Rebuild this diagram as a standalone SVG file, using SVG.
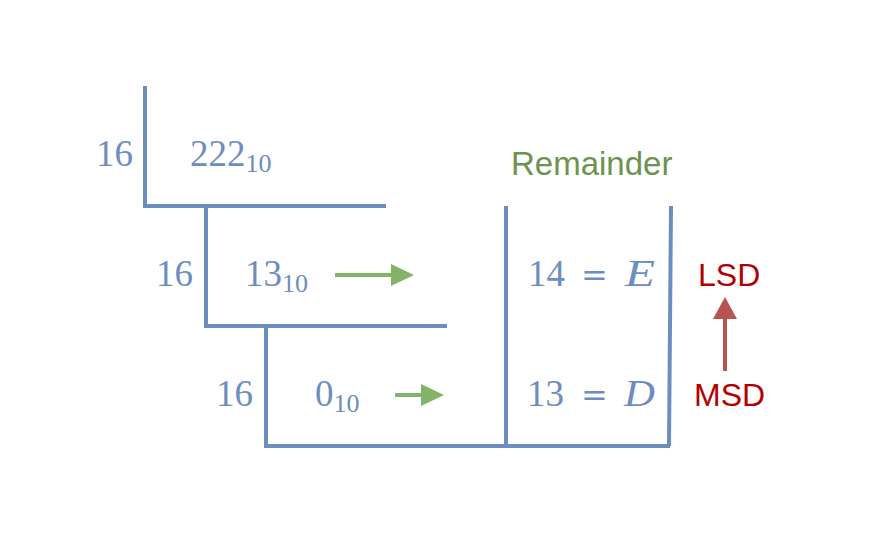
<svg xmlns="http://www.w3.org/2000/svg" width="875" height="553" viewBox="0 0 875 553">
<style>
.ln{stroke:#6c8ebf;stroke-width:4;fill:none}
.m{font-family:"Liberation Serif","Times New Roman",serif;font-size:37px;fill:#6c8ebf}
.s{font-size:26px}
.it{font-style:italic}
.eq{font-family:"DejaVu Serif",serif;font-size:32px;fill:#6c8ebf}
.g{stroke:#82b366;stroke-width:4;fill:none}
.red{font-family:"Liberation Sans",Arial,sans-serif;font-size:32px;fill:#b20000}
</style>
<rect width="875" height="553" fill="#ffffff"/>
<g id="frame">
<path class="ln" d="M145,86 V206 H386"/>
<path class="ln" d="M206,206 V326 H447"/>
<path class="ln" d="M266,326 V446 H670"/>
<path class="ln" d="M506,206 V446"/>
<path class="ln" d="M671,206 L669,446"/>
</g>
<g id="row1">
<text class="m" x="96" y="166">16</text>
<text class="m" x="190" y="166">222<tspan class="s" dy="6">10</tspan></text>
</g>
<g id="row2">
<text class="m" x="156" y="286">16</text>
<text class="m" x="245" y="286">13<tspan class="s" dy="6">10</tspan></text>
</g>
<g id="row3">
<text class="m" x="216" y="406">16</text>
<text class="m" x="315" y="406">0<tspan class="s" dy="6">10</tspan></text>
</g>
<g id="remainder">
<text x="511" y="175" font-family="'Liberation Sans',Arial,sans-serif" font-size="33" fill="#6d9350">Remainder</text>
<text class="m" x="528" y="286">14</text>
<text class="eq" x="581" y="286">=</text>
<text class="m it" x="625" y="286" textLength="30" lengthAdjust="spacingAndGlyphs">E</text>
<text class="m" x="527" y="406">13</text>
<text class="eq" x="581" y="406">=</text>
<text class="m it" x="624" y="406" textLength="31" lengthAdjust="spacingAndGlyphs">D</text>
</g>
<g id="connectors">
<line x1="335" y1="275" x2="396" y2="275" class="g"/>
<path d="M391,264 L414,275 L391,286 z" fill="#82b366"/>
<line x1="395" y1="395" x2="425" y2="395" class="g"/>
<path d="M421,384 L444,395 L421,406 z" fill="#82b366"/>
<line x1="725" y1="371" x2="725" y2="314" stroke="#b85450" stroke-width="4"/>
<path d="M713,319 L725,297 L737,319 z" fill="#b85450"/>
</g>
<g id="labels">
<text class="red" x="698" y="286">LSD</text>
<text class="red" x="694" y="406">MSD</text>
</g>
</svg>
